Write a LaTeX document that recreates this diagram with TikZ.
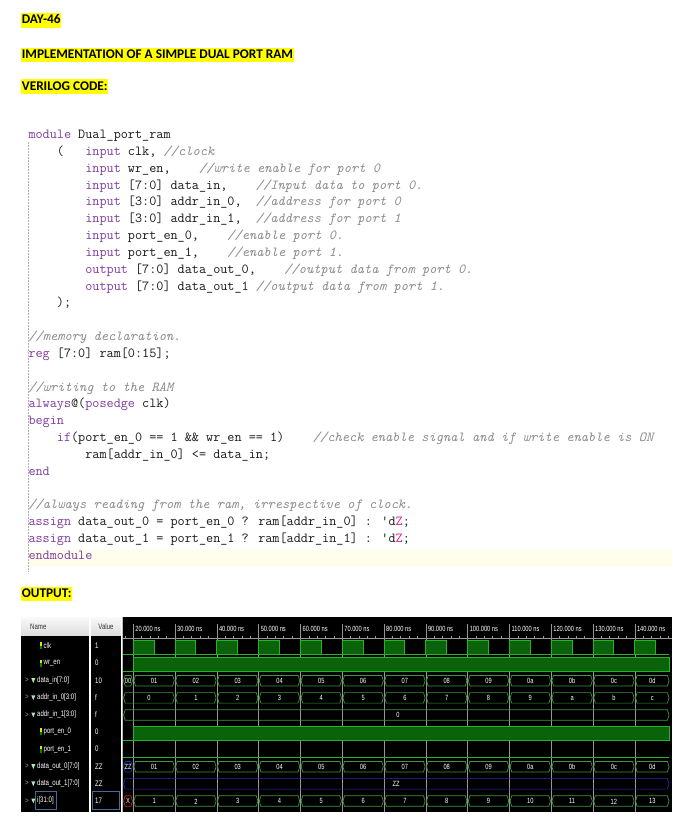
\documentclass[tikz,border=0pt]{standalone}
\usepackage{fontspec}
\setmainfont{Carlito}
\newfontfamily\wavefont[FakeStretch=0.76]{Liberation Sans}

\definecolor{hlyellow}{RGB}{255,255,0}
\definecolor{kwpurple}{RGB}{127,60,160}
\definecolor{cmgray}{RGB}{140,140,140}
\definecolor{codeink}{RGB}{25,25,25}
\definecolor{curline}{RGB}{255,254,236}
\definecolor{wfill}{RGB}{10,98,10}
\definecolor{wline}{RGB}{40,178,40}
\definecolor{wbus}{RGB}{62,150,62}
\definecolor{wz}{RGB}{40,40,185}
\definecolor{wx}{RGB}{205,35,35}
\definecolor{wgrid}{RGB}{150,150,150}
\definecolor{selbox}{RGB}{70,105,150}

\newcommand\vkw[1]{\textcolor{kwpurple}{#1}}
\newcommand\vcm[1]{\textcolor{cmgray}{\itshape #1}}
\newcommand\vz[1]{\textcolor{magenta!80!purple}{#1}}
% bus value box: x1, x2, row, colour, label, name
\newcommand\busseg[6]{%
  \draw[busbox,draw=#4] (#1,#3+0.25) -- (#1+1.6,#3-5) -- (#2-1.6,#3-5)
    -- (#2,#3+0.25) -- (#2-1.6,#3+5.5) -- (#1+1.6,#3+5.5) -- cycle;
  \node[wavetext] (#6) at ({(#1+#2)/2},#3+0.6) {#5};}

\begin{document}
\begin{tikzpicture}[x=1pt,y=-1pt,
  heading/.style={fill=hlyellow,anchor=west,inner xsep=0.6pt,inner ysep=0.5pt,
    text height=10.2pt,text depth=3.3pt,font=\bfseries\fontsize{13.3}{14}\selectfont},
  codeline/.style={anchor=base west,inner sep=0pt,text=codeink,
    font=\ttfamily\fontsize{13.8}{14}\selectfont},
  sigline/.style={draw=wline,line width=0.9pt},
  sigfill/.style={fill=wfill,draw=wline,line width=0.9pt},
  busbox/.style={line width=0.7pt},
  busicon/.style={fill=green!25!white!80!gray},
  wavetext/.style={inner sep=0pt,text=white,font=\wavefont\fontsize{7.5}{8}\selectfont},
  nametext/.style={anchor=west,inner sep=0pt,text=white,font=\wavefont\fontsize{8}{9}\selectfont}]
\useasboundingbox[fill=white] (0,0) rectangle (672,832);

% headings
\node[heading] (day) at (21.1,20.3) {DAY-46};
\node[heading] (title) at (21.1,55) {IMPLEMENTATION OF A SIMPLE DUAL PORT RAM};
\node[heading] (vcode) at (21.1,86.7) {VERILOG CODE:};
\node[heading] (outp) at (21.1,594.2) {OUTPUT:};

% code
\fill[curline] (28,550) rectangle (672,566.5);
\draw[gray!60,dash pattern=on 1.5pt off 1.5pt,line width=0.5pt] (28,142) -- (28,572);
\node[codeline] (c0) at (28.3,138.5) {\vkw{module} Dual\_port\_ram};
\node[codeline] (c1) at (28.3,155.34) {~~~~(~~~\vkw{input} clk, \vcm{//clock}};
\node[codeline] (c2) at (28.3,172.18) {~~~~~~~~\vkw{input} wr\_en,~~~~\vcm{//write enable for port 0}};
\node[codeline] (c3) at (28.3,189.02) {~~~~~~~~\vkw{input} [7:0] data\_in,~~~~\vcm{//Input data to port 0.}};
\node[codeline] (c4) at (28.3,205.86) {~~~~~~~~\vkw{input} [3:0] addr\_in\_0,~~\vcm{//address for port 0}};
\node[codeline] (c5) at (28.3,222.70) {~~~~~~~~\vkw{input} [3:0] addr\_in\_1,~~\vcm{//address for port 1}};
\node[codeline] (c6) at (28.3,239.54) {~~~~~~~~\vkw{input} port\_en\_0,~~~~\vcm{//enable port 0.}};
\node[codeline] (c7) at (28.3,256.38) {~~~~~~~~\vkw{input} port\_en\_1,~~~~\vcm{//enable port 1.}};
\node[codeline] (c8) at (28.3,273.22) {~~~~~~~~\vkw{output} [7:0] data\_out\_0,~~~~\vcm{//output data from port 0.}};
\node[codeline] (c9) at (28.3,290.06) {~~~~~~~~\vkw{output} [7:0] data\_out\_1 \vcm{//output data from port 1.}};
\node[codeline] (c10) at (28.3,306.90) {~~~~);};
\node[codeline] (c12) at (28.3,340.58) {\vcm{//memory declaration.}};
\node[codeline] (c13) at (28.3,357.42) {\vkw{reg} [7:0] ram[0:15];};
\node[codeline] (c15) at (28.3,391.10) {\vcm{//writing to the RAM}};
\node[codeline] (c16) at (28.3,407.94) {\vkw{always}@(\vkw{posedge} clk)};
\node[codeline] (c17) at (28.3,424.78) {\vkw{begin}};
\node[codeline] (c18) at (28.3,441.62) {~~~~\vkw{if}(port\_en\_0 == 1 \&\& wr\_en == 1)~~~~\vcm{//check enable signal and if write enable is ON}};
\node[codeline] (c19) at (28.3,458.46) {~~~~~~~~ram[addr\_in\_0] <= data\_in;};
\node[codeline] (c20) at (28.3,475.30) {\vkw{end}};
\node[codeline] (c22) at (28.3,508.98) {\vcm{//always reading from the ram, irrespective of clock.}};
\node[codeline] (c23) at (28.3,525.82) {\vkw{assign} data\_out\_0 = port\_en\_0 ? ram[addr\_in\_0] : 'd\vz{Z};};
\node[codeline] (c24) at (28.3,542.66) {\vkw{assign} data\_out\_1 = port\_en\_1 ? ram[addr\_in\_1] : 'd\vz{Z};};
\node[codeline] (c25) at (28.3,559.50) {\vkw{endmodule}};

% simulator panels
\fill[black] (123,617) rectangle (672,812);
\shade[top color=gray!4,bottom color=gray!28] (21,617) rectangle (88.5,636);
\shade[top color=gray!4,bottom color=gray!28] (90.8,617) rectangle (120.5,636);
\fill[black] (21,636) rectangle (88.5,812);
\fill[black] (90.8,636) rectangle (120.5,812);
\draw[gray!55,line width=0.8pt] (122.4,617) -- (122.4,812);
\node[nametext,text=black!80] (hname) at (30,626.5) {Name};
\node[nametext,text=black!80,anchor=center] (hvalue) at (106,626.5) {Value};

% time ruler
\draw[gray!80,line width=0.6pt] (123,638.5) -- (672,638.5);
\foreach \m in {-1,...,64}
  \draw[gray!80,line width=0.5pt] (133.2+8.36*\m,638.5) -- ++(0,-2.2);
\foreach \k in {0,...,12}
  \draw[wgrid,line width=0.5pt] (133.2+41.8*\k,624) -- (133.2+41.8*\k,812);
\foreach \t [count=\k from 0] in {20,30,...,140}
  \node[wavetext,anchor=west] (tm\k) at (135.2+41.8*\k,628.5) {\t.000 ns};

% signal names and values
\foreach \nm/\vl/\bs [count=\r from 0] in {clk/1/0, wr\_en/0/0, data\_in[7:0]/10/1,
    addr\_in\_0[3:0]/f/1, addr\_in\_1[3:0]/f/1, port\_en\_0/0/0, port\_en\_1/0/0,
    data\_out\_0[7:0]/ZZ/1, data\_out\_1[7:0]/ZZ/1, i[31:0]/17/1}{
  \pgfmathsetmacro\cy{646+17.2*\r}
  \ifnum\bs=1
    \node[nametext,text=gray!75] (arr\r) at (25,\cy) {>};
    \fill[busicon] (31.3,\cy-2.2) -- (35.3,\cy-2.2) -- (33.3,\cy+2.6) -- cycle;
    \node[nametext] (nm\r) at (37,\cy) {\nm};
  \else
    \fill[yellow!85!green] (40.2,\cy-3.6) rectangle (41.6,\cy-0.4);
    \fill[green!55!black] (40.2,\cy-0.4) rectangle (41.6,\cy+3.4);
    \node[nametext] (nm\r) at (43.5,\cy) {\nm};
  \fi
  \node[nametext] (vl\r) at (95,\cy) {\vl};
}
\draw[selbox,line width=0.8pt] (35.8,791.5) rectangle (56.5,809.5);
\draw[selbox,line width=0.8pt] (92.5,791.5) rectangle (119.5,809.5);

% clk
\draw[sigline] (123,654) -- (669,654);
\foreach \k in {0,...,12}{
  \pgfmathsetmacro\xa{133.2+41.8*\k}
  \draw[sigfill] (\xa,654) rectangle (\xa+20.9,640.5);}
% wr_en, port_en_0, port_en_1
\draw[sigline] (123,671.2) -- (133.2,671.2);
\draw[sigfill] (133.2,671.2) rectangle (669,657.7);
\draw[sigline] (123,740) -- (133.2,740);
\draw[sigfill] (133.2,740) rectangle (669,726.5);
\draw[sigline] (123,757.2) -- (669,757.2);

% buses
\busseg{123.6}{132.5}{680.4}{wbus}{00}{din00}
\busseg{123.6}{132.5}{766.4}{wz}{ZZ}{doutzz}
\busseg{123.6}{132.5}{800.8}{wx}{X}{ix}
\busseg{123.6}{174.3}{697.6}{wbus}{0}{ain0}
\foreach \v [count=\k from 0] in {01,02,03,04,05,06,07,08,09,0a,0b,0c,0d}{
  \pgfmathsetmacro\xa{133.2+41.8*\k+0.7}
  \pgfmathsetmacro\xb{min(133.2+41.8*(\k+1)-0.7,669)}
  \busseg{\xa}{\xb}{680.4}{wbus}{\v}{din\k}
  \busseg{\xa}{\xb}{766.4}{wbus}{\v}{dout\k}}
\foreach \v [count=\k from 1] in {1,2,3,4,5,6,7,8,9,a,b,c}{
  \pgfmathsetmacro\xa{133.2+41.8*\k+0.7}
  \pgfmathsetmacro\xb{min(133.2+41.8*(\k+1)-0.7,669)}
  \busseg{\xa}{\xb}{697.6}{wbus}{\v}{ain\k}}
\foreach \v [count=\k from 0] in {1,...,13}{
  \pgfmathsetmacro\xa{133.2+41.8*\k+0.7}
  \pgfmathsetmacro\xb{min(133.2+41.8*(\k+1)-0.7,669)}
  \busseg{\xa}{\xb}{800.8}{wbus}{\v}{iv\k}}
\busseg{123.6}{669}{714.8}{wbus}{}{ain1}
\node[wavetext] (ain1v) at (398,715.4) {0};
\busseg{123.6}{669}{783.6}{wz}{}{dout1}
\node[wavetext] (dout1v) at (396,784.2) {ZZ};
\end{tikzpicture}
\end{document}
